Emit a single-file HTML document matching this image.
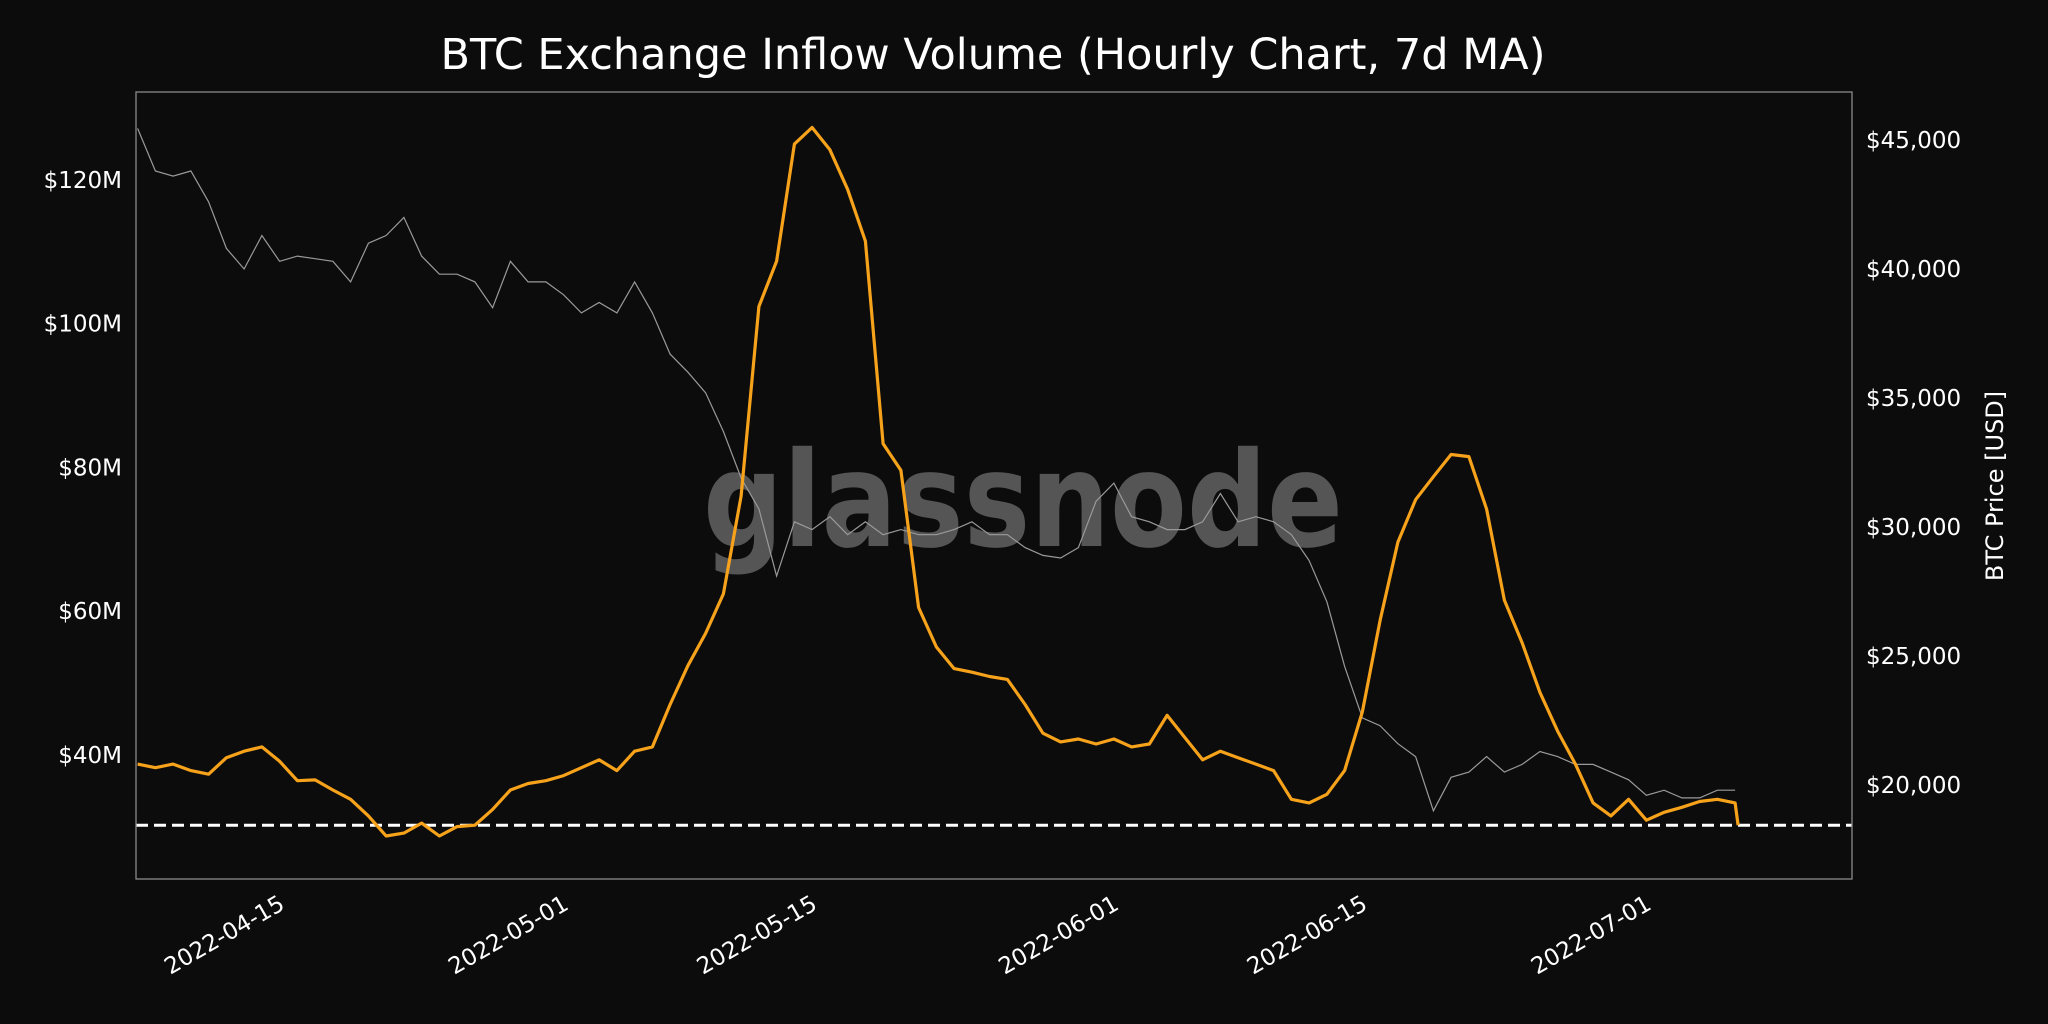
<!DOCTYPE html>
<html><head><meta charset="utf-8"><style>
html,body{margin:0;padding:0;background:#0c0c0c;}
svg{display:block;font-family:"DejaVu Sans","Liberation Sans",sans-serif;}
</style></head><body>
<svg id="chart" width="2048" height="1024" viewBox="0 0 2048 1024" xmlns="http://www.w3.org/2000/svg">
<rect x="0" y="0" width="2048" height="1024" fill="#0c0c0c"/>
<text x="993" y="69" fill="#ffffff" font-size="43" text-anchor="middle">BTC Exchange Inflow Volume (Hourly Chart, 7d MA)</text>
<text x="703" y="546" fill="#ffffff" fill-opacity="0.3" font-size="132" font-weight="bold" textLength="640" lengthAdjust="spacingAndGlyphs">glassnode</text>
<g id="gPrice"></g>
<g id="gInflow"></g>
<g id="gAxes"></g>
<rect x="136" y="92" width="1716" height="787" fill="none" stroke="#8a8a8a" stroke-width="1.3"/>
<text transform="translate(2003,486) rotate(-90)" fill="#ffffff" font-size="24" text-anchor="middle">BTC Price [USD]</text>
</svg>
<script>
const startDate = "2022-04-06T14:00";
const inflowM = [38.7,38.2,38.7,37.8,37.3,39.6,40.5,41.1,39.1,36.4,36.5,35.1,33.8,31.5,28.7,29.1,30.5,28.7,30,30.2,32.4,35.1,36,36.4,37.1,38.2,39.3,37.8,40.5,41.1,47,52.4,56.9,62.4,76,102.4,108.7,125,127.3,124.2,118.7,111.5,83.3,79.6,60.5,55,52,51.5,50.9,50.5,47,43,41.8,42.2,41.5,42.2,41.1,41.5,45.5,42.4,39.3,40.5,39.6,38.7,37.8,33.8,33.3,34.5,37.8,46,58.7,69.6,75.5,78.7,81.8,81.5,74.2,61.5,55.6,48.7,43.3,38.7,33.3,31.5,33.8,30.9,32,32.7,33.5,33.8,33.3];
const inflowEnd = 30.2;
const priceUSD = [45450,43800,43600,43800,42600,40800,40000,41300,40300,40500,40400,40300,39500,41000,41300,42000,40500,39800,39800,39500,38500,40300,39500,39500,39000,38300,38700,38300,39500,38300,36700,36000,35200,33700,31900,30700,28100,30200,29900,30400,29700,30200,29700,29900,29700,29700,29900,30200,29700,29700,29200,28900,28800,29200,31000,31700,30400,30200,29900,29900,30200,31300,30200,30400,30200,29700,28700,27100,24600,22600,22300,21600,21100,19000,20300,20500,21100,20500,20800,21300,21100,20800,20800,20500,20200,19600,19800,19500,19500,19800,19800];
const baselineM = 30.2;
const leftTicks = [40,60,80,100,120];
const rightTicks = [20000,25000,30000,35000,40000,45000];
const xTicks = ["2022-04-15","2022-05-01","2022-05-15","2022-06-01","2022-06-15","2022-07-01"];

const NS="http://www.w3.org/2000/svg";
const DAY=86400000, ref=Date.parse("2022-04-15T00:00Z");
function xd(t){return 287+(t-ref)/DAY*17.75;}
function yL(m){return 180+(120-m)*7.185;}
function yR(p){return 140+(45000-p)*0.0258;}
const t0=Date.parse(startDate+"Z");
function mk(tag,attrs,parent){const e=document.createElementNS(NS,tag);for(const k in attrs)e.setAttribute(k,attrs[k]);parent.appendChild(e);return e;}

const gP=document.getElementById("gPrice");
let d=priceUSD.map((v,i)=>(i?"L":"M")+xd(t0+i*DAY).toFixed(1)+","+yR(v).toFixed(1)).join("");
const pl=mk("path",{d:d,fill:"none",stroke:"#9a9a9a","stroke-width":"1.2"},gP);



const gI=document.getElementById("gInflow");
const bl=mk("line",{x1:136,x2:1852,y1:yL(baselineM),y2:yL(baselineM),stroke:"#ffffff","stroke-width":"3","stroke-dasharray":"12,6"},gI);


let pts=inflowM.map((v,i)=>[xd(t0+i*DAY),yL(v)]);
const last=pts[pts.length-1];
pts.push([last[0]+3,yL(inflowEnd)]);
d=pts.map((p,i)=>(i?"L":"M")+p[0].toFixed(1)+","+p[1].toFixed(1)).join("");
const il=mk("path",{d:d,fill:"none",stroke:"#f7a21b","stroke-width":"3.2","stroke-linejoin":"round"},gI);



const gA=document.getElementById("gAxes");
leftTicks.forEach(v=>{const t=mk("text",{x:122,y:yL(v)+8,fill:"#fff","font-size":"23","text-anchor":"end"},gA);t.textContent="$"+v+"M";

});
rightTicks.forEach(v=>{const t=mk("text",{x:1866,y:yR(v)+8,fill:"#fff","font-size":"23"},gA);t.textContent="$"+v.toLocaleString("en-US");

});
xTicks.forEach(s=>{const x=xd(Date.parse(s+"T00:00Z"))-8;const t=mk("text",{transform:"translate("+x+",896) rotate(-30)",fill:"#fff","font-size":"23","text-anchor":"end",dy:"14"},gA);t.textContent=s;

});
</script>
</body></html>
